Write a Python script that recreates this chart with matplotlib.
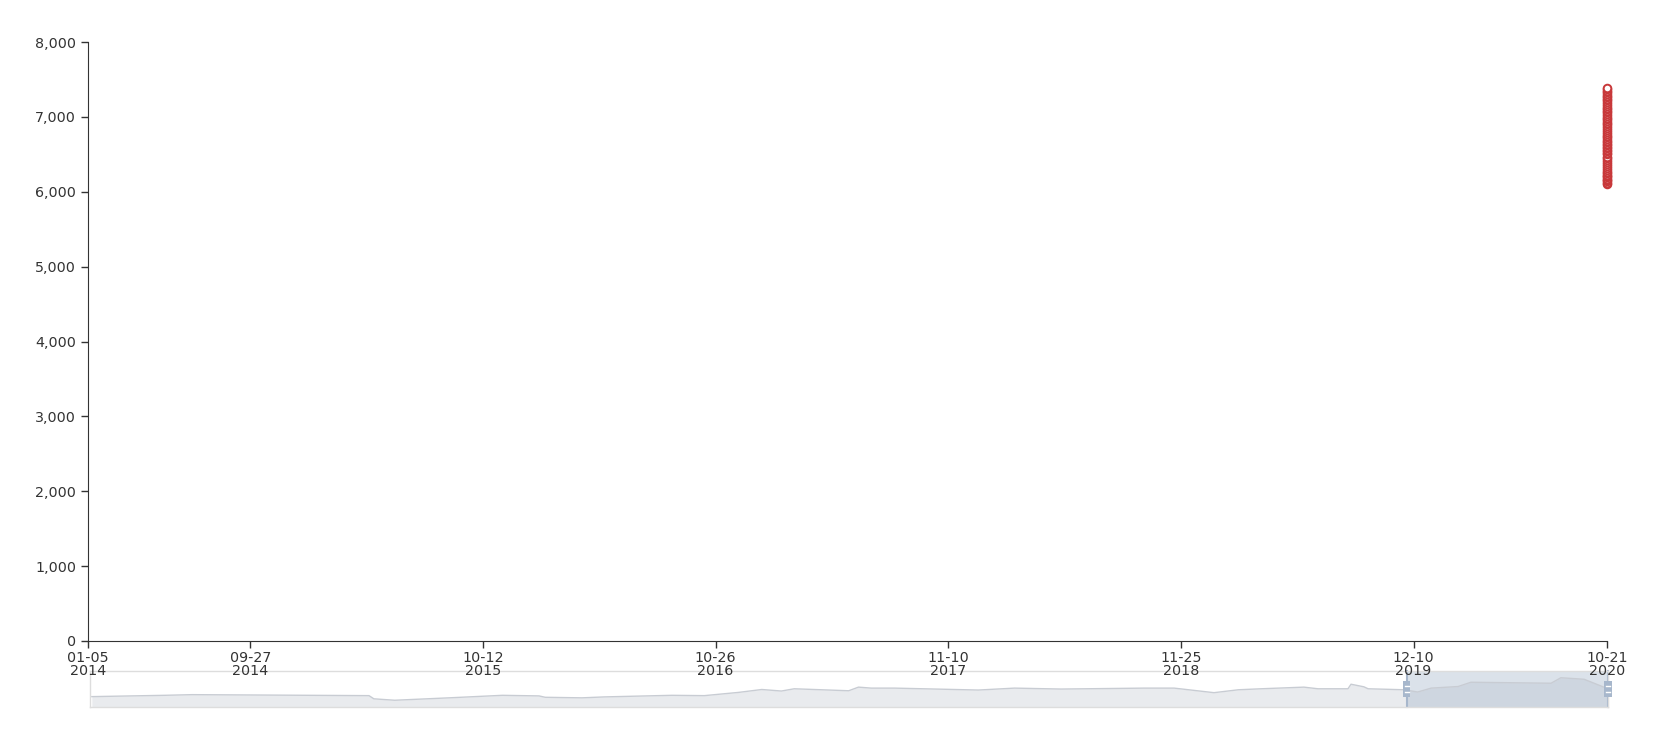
import numpy as np
import pandas as pd
import matplotlib
matplotlib.use("Agg")
import matplotlib.pyplot as plt
import matplotlib.dates as mdates
from matplotlib.patches import Rectangle
from matplotlib.ticker import FuncFormatter

###data###
# x range of the time axis
x_start = "2014-01-05"
x_end = "2020-10-21"
# dates of the x tick labels
tick_dates = ["2014-01-05", "2014-09-27", "2015-10-12", "2016-10-26",
              "2017-11-10", "2018-11-25", "2019-12-10", "2020-10-21"]
# scatter points (all sit on the last date)
point_date = "2020-10-21"
point_values = [6105, 6120, 6140, 6160, 6175, 6195, 6210, 6230, 6250, 6270, 6290,
                6320, 6345, 6370, 6395, 6420, 6445, 6470, 6500, 6520, 6540, 6560,
                6580, 6600, 6620, 6640, 6660, 6680, 6710, 6730, 6750, 6775, 6800,
                6825, 6850, 6875, 6900, 6920, 6940, 6965, 6990, 7015, 7040, 7060,
                7080, 7100, 7120, 7145, 7170, 7195, 7220, 7240, 7260, 7285, 7310,
                7330, 7350, 7370, 7390]
# overview series in the zoom slider
slider_dates = ["2014-01-08", "2014-05-07", "2014-06-21", "2015-04-06", "2015-04-14",
                "2015-05-18", "2015-08-15", "2015-11-10", "2016-01-09", "2016-01-19",
                "2016-03-19", "2016-04-25", "2016-08-13", "2016-10-05", "2016-11-30",
                "2017-01-07", "2017-02-08", "2017-03-01", "2017-05-29", "2017-06-14",
                "2017-07-05", "2017-08-12", "2017-12-27", "2018-02-24", "2018-05-11",
                "2018-09-24", "2018-11-12", "2018-12-15", "2019-01-16", "2019-02-25",
                "2019-04-03", "2019-06-12", "2019-07-05", "2019-08-23", "2019-08-28",
                "2019-09-18", "2019-09-25", "2019-11-23", "2019-12-15", "2020-01-06",
                "2020-02-19", "2020-03-11", "2020-07-20", "2020-08-05", "2020-09-12",
                "2020-10-21"]
slider_values = [5680, 5800, 5860, 5770, 5480,
                 5350, 5570, 5800, 5745, 5620,
                 5570, 5655, 5800, 5770, 6065,
                 6330, 6190, 6395, 6215, 6545,
                 6455, 6455, 6280, 6455, 6370,
                 6455, 6455, 6245, 6040, 6305,
                 6395, 6545, 6395, 6395, 6810,
                 6575, 6395, 6305, 6100, 6455,
                 6600, 6990, 6900, 7400, 7260,
                 6395]
# selected window of the slider
zoom_start = "2019-11-27"
zoom_end = "2020-10-21"

###figure###
plt.rcParams['font.family'] = ['DejaVu Sans']
fig = plt.figure(figsize=(16.63, 7.54), dpi=100)
ax = fig.add_axes([88 / 1663, 1 - 641 / 754, (1607 - 88) / 1663, (641 - 42) / 754])
ax.set_zorder(5)
ax.patch.set_alpha(0)

x0, x1 = pd.Timestamp(x_start), pd.Timestamp(x_end)
ax.scatter([pd.Timestamp(point_date)] * len(point_values), point_values,
           s=30, facecolors='white', edgecolors='#c8383a', linewidths=1.4,
           zorder=3, clip_on=False)

ax.set_xlim(x0, x1)
ax.set_ylim(0, 8000)
ax.set_yticks(range(0, 8001, 1000))
ax.yaxis.set_major_formatter(FuncFormatter(lambda v, p: f"{int(v):,}"))
ax.set_xticks(pd.to_datetime(tick_dates))
ax.xaxis.set_major_formatter(mdates.DateFormatter('%m-%d\n%Y'))
for s in ['top', 'right']:
    ax.spines[s].set_visible(False)
for s in ['left', 'bottom']:
    ax.spines[s].set_color('#333333')
ax.tick_params(axis='both', colors='#333333', labelcolor='#333333',
               labelsize=10.3, length=5, width=1)
ax.tick_params(axis='x', pad=2)
for lbl in ax.get_xticklabels():
    lbl.set_linespacing(0.9)

###slider###
sx = fig.add_axes([90 / 1663, 1 - 707 / 754, (1608 - 90) / 1663, 36 / 754])
sx.set_zorder(1)
sd = pd.to_datetime(slider_dates)
sv = np.array(slider_values, dtype=float)
vmin, vmax = sv.min(), sv.max()
pad = (vmax - vmin) * 0.3
sx.set_ylim(vmin - pad, vmax + pad)
sx.set_xlim(x0, x1)
sx.fill_between(sd, vmin - pad, sv, color='#e9ebee', lw=0)
sx.plot(sd, sv, color='#c8ccd3', lw=1)
z0, z1 = pd.Timestamp(zoom_start), pd.Timestamp(zoom_end)
sx.axvspan(z0, z1, color='#a7b7cc', alpha=0.4, lw=0)
for s in sx.spines.values():
    s.set_color('#dddddd')
    s.set_linewidth(1)
sx.set_xticks([])
sx.set_yticks([])

# handles
tr = sx.get_xaxis_transform()
for h in [z0, z1]:
    sx.plot([h, h], [0, 1], color='#a7b7cc', lw=1.5, transform=tr, clip_on=False)
    hw = pd.Timedelta(days=6)
    sx.add_patch(Rectangle((h - hw, 0.28), 2 * hw, 0.44, transform=tr,
                           facecolor='#a7b7cc', edgecolor='none', clip_on=False, zorder=4))
    sx.plot([h - pd.Timedelta(days=3), h + pd.Timedelta(days=3)], [0.42, 0.42],
            color='white', lw=1, transform=tr, clip_on=False, zorder=5)
    sx.plot([h - pd.Timedelta(days=3), h + pd.Timedelta(days=3)], [0.58, 0.58],
            color='white', lw=1, transform=tr, clip_on=False, zorder=5)

fig.savefig('out.png', dpi=100)
